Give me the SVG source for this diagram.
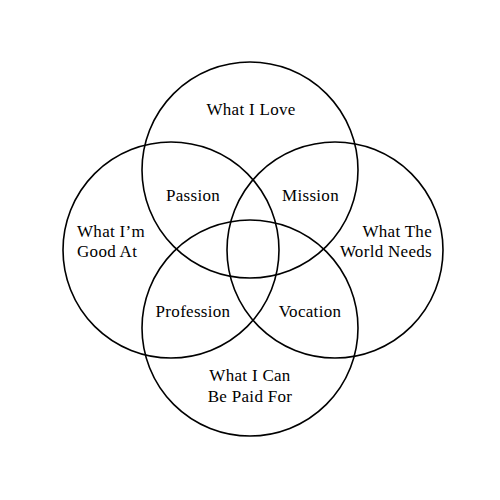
<svg xmlns="http://www.w3.org/2000/svg" width="500" height="500" viewBox="0 0 500 500">
<style>
.c{fill:none;stroke:#000;stroke-width:1.6}
text{font-family:"Liberation Serif","Times New Roman",serif;font-size:17px;fill:#000;letter-spacing:0.3px}
.m{text-anchor:middle}
.e{text-anchor:end}
</style>
<rect width="500" height="500" fill="#fff"/>
<g id="love"><circle class="c" cx="250" cy="170" r="108"/><text class="m" x="251" y="115">What I Love</text></g>
<g id="good"><circle class="c" cx="171" cy="250" r="108"/><text x="77" y="236.5">What I’m</text><text x="77" y="256.5">Good At</text></g>
<g id="world"><circle class="c" cx="335" cy="250" r="108"/><text class="e" x="432" y="236.5">What The</text><text class="e" x="432" y="256.5">World Needs</text></g>
<g id="paid"><circle class="c" cx="250" cy="328" r="108"/><text class="m" x="250" y="381">What I Can</text><text class="m" x="250" y="401.5">Be Paid For</text></g>
<g id="passion"><text class="m" x="193" y="201">Passion</text></g>
<g id="mission"><text class="m" x="310.5" y="201">Mission</text></g>
<g id="profession"><text class="m" x="193" y="316.5">Profession</text></g>
<g id="vocation"><text class="m" x="310" y="316.5">Vocation</text></g>
<g id="connectors"></g>
</svg>
